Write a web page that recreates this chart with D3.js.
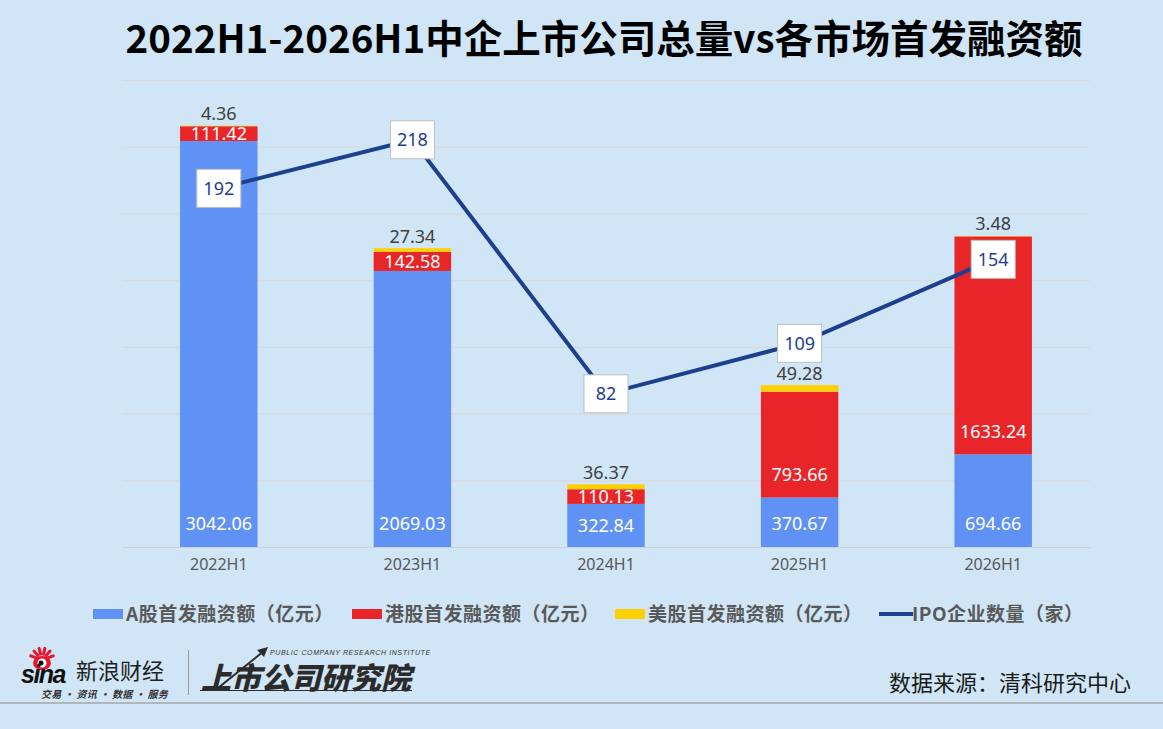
<!DOCTYPE html>
<html>
<head>
<meta charset="utf-8">
<script src="https://cdn.jsdelivr.net/npm/d3@7"></script>
<style>
  html, body { margin: 0; padding: 0; background: #d0e5f5; }
  svg { display: block; font-family: "Noto Sans CJK SC", "Noto Sans", sans-serif; }
</style>
</head>
<body>
<svg id="chart" width="1163" height="729"></svg>
<script>
// chart data
const categories = ['2022H1', '2023H1', '2024H1', '2025H1', '2026H1'];
const aShare = [3042.06, 2069.03, 322.84, 370.67, 694.66];
const hkShare = [111.42, 142.58, 110.13, 793.66, 1633.24];
const usShare = [4.36, 27.34, 36.37, 49.28, 3.48];
const ipoCount = [192, 218, 82, 109, 154];
const seriesNames = ['A股首发融资额（亿元）', '港股首发融资额（亿元）', '美股首发融资额（亿元）', 'IPO企业数量（家）'];

const colors = { a: '#6092f5', hk: '#e8262a', us: '#ffd000', line: '#1c3f8e' };

var margin = { top: 80, right: 73, bottom: 182, left: 122 };
const W = 1163, H = 729;
const w = W - margin.left - margin.right;
const h = H - margin.top - margin.bottom;

const svg = d3.select('#chart');

svg.append('rect').attr('width', W).attr('height', H).attr('fill', '#d0e5f5');

// title
svg.append('text')
    .attr('x', 604).attr('y', 53)
    .attr('text-anchor', 'middle')
    .style('font-size', '38.5px').style('font-weight', 'bold').attr('fill', '#000')
    .text('2022H1-2026H1中企上市公司总量vs各市场首发融资额');

const g = svg.append('g').attr('transform', 'translate(' + margin.left + ',' + margin.top + ')');

const x = d3.scaleBand().domain(categories).range([0, w]).paddingInner(0.6).paddingOuter(0.3);
const y = d3.scaleLinear().domain([0, 3500]).range([h, 0]);
const y2 = d3.scaleLinear().domain([0, 250]).range([h, 0]);

// gridlines
g.append('g')
    .call(d3.axisLeft(y).tickValues(d3.range(500, 3501, 500)).tickSize(-w).tickFormat(''))
    .call(a => a.select('.domain').remove())
    .call(a => a.selectAll('line').attr('stroke', '#d9d9d9').attr('stroke-width', 1));

// x axis
g.append('g')
    .attr('transform', 'translate(0,' + h + ')')
    .call(d3.axisBottom(x).tickSize(0).tickPadding(12))
    .call(a => a.select('.domain').attr('stroke', '#d0d0d0'))
    .call(a => a.selectAll('text').style('font-size', '16px').attr('fill', '#595959')
        .style('font-family', '"Noto Sans", "Noto Sans CJK SC", sans-serif'));

// stacked bars
const rows = categories.map((c, i) => ({ cat: c, a: aShare[i], hk: hkShare[i], us: usShare[i] }));
const stack = d3.stack().keys(['a', 'hk', 'us'])(rows);

stack.forEach(layer => {
    g.append('g').selectAll('rect')
        .data(layer)
        .join('rect')
        .attr('x', d => x(d.data.cat))
        .attr('width', x.bandwidth())
        .attr('y', d => y(d[1]))
        .attr('height', d => y(d[0]) - y(d[1]))
        .attr('fill', colors[layer.key]);
});

const numFont = '"Noto Sans", "DejaVu Sans", sans-serif';

// labels inside A and HK segments
['a', 'hk'].forEach((key, k) => {
    const layer = stack[k];
    g.append('g').selectAll('text')
        .data(layer)
        .join('text')
        .attr('x', d => x(d.data.cat) + x.bandwidth() / 2)
        .attr('y', d => Math.max((y(d[0]) + y(d[1])) / 2, y(d[0]) - 23))
        .attr('dy', '0.36em')
        .attr('text-anchor', 'middle')
        .style('font-size', '18px').style('font-family', numFont)
        .attr('fill', '#fff')
        .text(d => d.data[key].toFixed(2));
});

// US labels above bars
g.append('g').selectAll('text')
    .data(stack[2])
    .join('text')
    .attr('x', d => x(d.data.cat) + x.bandwidth() / 2)
    .attr('y', d => y(d[1]) - 12)
    .attr('dy', '0.36em')
    .attr('text-anchor', 'middle')
    .style('font-size', '18px').style('font-family', numFont)
    .attr('fill', '#404040')
    .text(d => d.data.us.toFixed(2));

// IPO line
const line = d3.line()
    .x((d, i) => x(categories[i]) + x.bandwidth() / 2)
    .y(d => y2(d));

g.append('path')
    .datum(ipoCount)
    .attr('d', line)
    .attr('fill', 'none')
    .attr('stroke', colors.line)
    .attr('stroke-width', 4);

const lbl = g.append('g').selectAll('g')
    .data(ipoCount)
    .join('g')
    .attr('transform', (d, i) => 'translate(' + (x(categories[i]) + x.bandwidth() / 2) + ',' + y2(d) + ')');

lbl.append('rect')
    .attr('x', -22).attr('y', -19).attr('width', 44).attr('height', 38)
    .attr('fill', '#fff').attr('stroke', '#bfbfbf').attr('stroke-width', 1);

lbl.append('text')
    .attr('text-anchor', 'middle').attr('dy', '0.36em')
    .style('font-size', '18px').style('font-family', numFont)
    .attr('fill', '#1c3f8e')
    .text(d => d);

// legend
const legend = svg.append('g').attr('transform', 'translate(0,614)');
const legendItems = [
    { name: seriesNames[0], color: colors.a, x: 93, type: 'rect' },
    { name: seriesNames[1], color: colors.hk, x: 352, type: 'rect' },
    { name: seriesNames[2], color: colors.us, x: 615, type: 'rect' },
    { name: seriesNames[3], color: colors.line, x: 879, type: 'line' }
];
legendItems.forEach(it => {
    if (it.type === 'rect') {
        legend.append('rect').attr('x', it.x).attr('y', -5).attr('width', 30).attr('height', 10).attr('fill', it.color);
    } else {
        legend.append('line').attr('x1', it.x).attr('x2', it.x + 34).attr('y1', 0).attr('y2', 0)
            .attr('stroke', it.color).attr('stroke-width', 4);
    }
    legend.append('text')
        .attr('x', it.x + 33).attr('dy', '0.36em')
        .style('font-size', '19px').style('font-weight', 'bold')
        .style('letter-spacing', '0.5px')
        .attr('fill', '#595959')
        .text(it.name);
});

// footer
svg.append('line').attr('x1', 0).attr('x2', W).attr('y1', 703).attr('y2', 703)
    .attr('stroke', '#a6a6a6').attr('stroke-width', 1.5);

svg.append('text')
    .attr('x', 1131).attr('y', 691)
    .attr('text-anchor', 'end')
    .style('font-size', '22px').attr('fill', '#1a1a1a')
    .text('数据来源：清科研究中心');

// sina logo
const logo = svg.append('g');
const eye = logo.append('g').attr('transform', 'translate(42,660)');
d3.range(-70, 71, 28).forEach(a => {
    const r = a * Math.PI / 180;
    eye.append('line')
        .attr('x1', Math.sin(r) * 6).attr('y1', -Math.cos(r) * 6)
        .attr('x2', Math.sin(r) * 12).attr('y2', -Math.cos(r) * 12)
        .attr('stroke', '#e6162d').attr('stroke-width', 3).attr('stroke-linecap', 'round');
});
eye.append('ellipse').attr('rx', 9).attr('ry', 7).attr('cy', 3).attr('fill', '#e6162d');
eye.append('circle').attr('r', 4.5).attr('cy', 3).attr('fill', '#fff');
eye.append('circle').attr('r', 2.5).attr('cx', -1).attr('cy', 3).attr('fill', '#111');

logo.append('text')
    .attr('x', 21).attr('y', 683)
    .style('font-size', '25px').style('font-weight', 'bold').style('font-style', 'italic')
    .style('font-family', '"Liberation Sans", sans-serif').style('letter-spacing', '-1.5px')
    .attr('fill', '#111').text('sina');
logo.append('text')
    .attr('x', 76).attr('y', 679)
    .style('font-size', '22px').attr('fill', '#222').text('新浪财经');
logo.append('text')
    .attr('x', 41).attr('y', 698)
    .style('font-size', '10px').style('font-weight', 'bold').style('font-style', 'italic')
    .style('letter-spacing', '0.2px')
    .attr('fill', '#333').text('交易 · 资讯 · 数据 · 服务');

logo.append('line').attr('x1', 188.5).attr('x2', 188.5).attr('y1', 650).attr('y2', 695)
    .attr('stroke', '#9a9a9a').attr('stroke-width', 1);

// research institute logo
logo.append('text')
    .attr('x', 201).attr('y', 689)
    .style('font-size', '30px').style('font-weight', '900').style('font-style', 'italic')
    .attr('fill', '#2b2b2b').text('上市公司研究院');
logo.append('line').attr('x1', 200).attr('x2', 412).attr('y1', 690.5).attr('y2', 690.5)
    .attr('stroke', '#2b2b2b').attr('stroke-width', 1.2);
logo.append('text')
    .attr('x', 270).attr('y', 655)
    .style('font-size', '7px').style('font-style', 'italic').style('font-family', '"Liberation Sans", sans-serif')
    .style('letter-spacing', '0.6px')
    .attr('fill', '#333').text('PUBLIC COMPANY RESEARCH INSTITUTE');
logo.append('line').attr('x1', 218).attr('y1', 688).attr('x2', 264).attr('y2', 651)
    .attr('stroke', '#2b2b2b').attr('stroke-width', 2);
logo.append('path').attr('d', 'M268,647 L257,650 L264,657 Z').attr('fill', '#2b2b2b');
</script>
</body>
</html>
